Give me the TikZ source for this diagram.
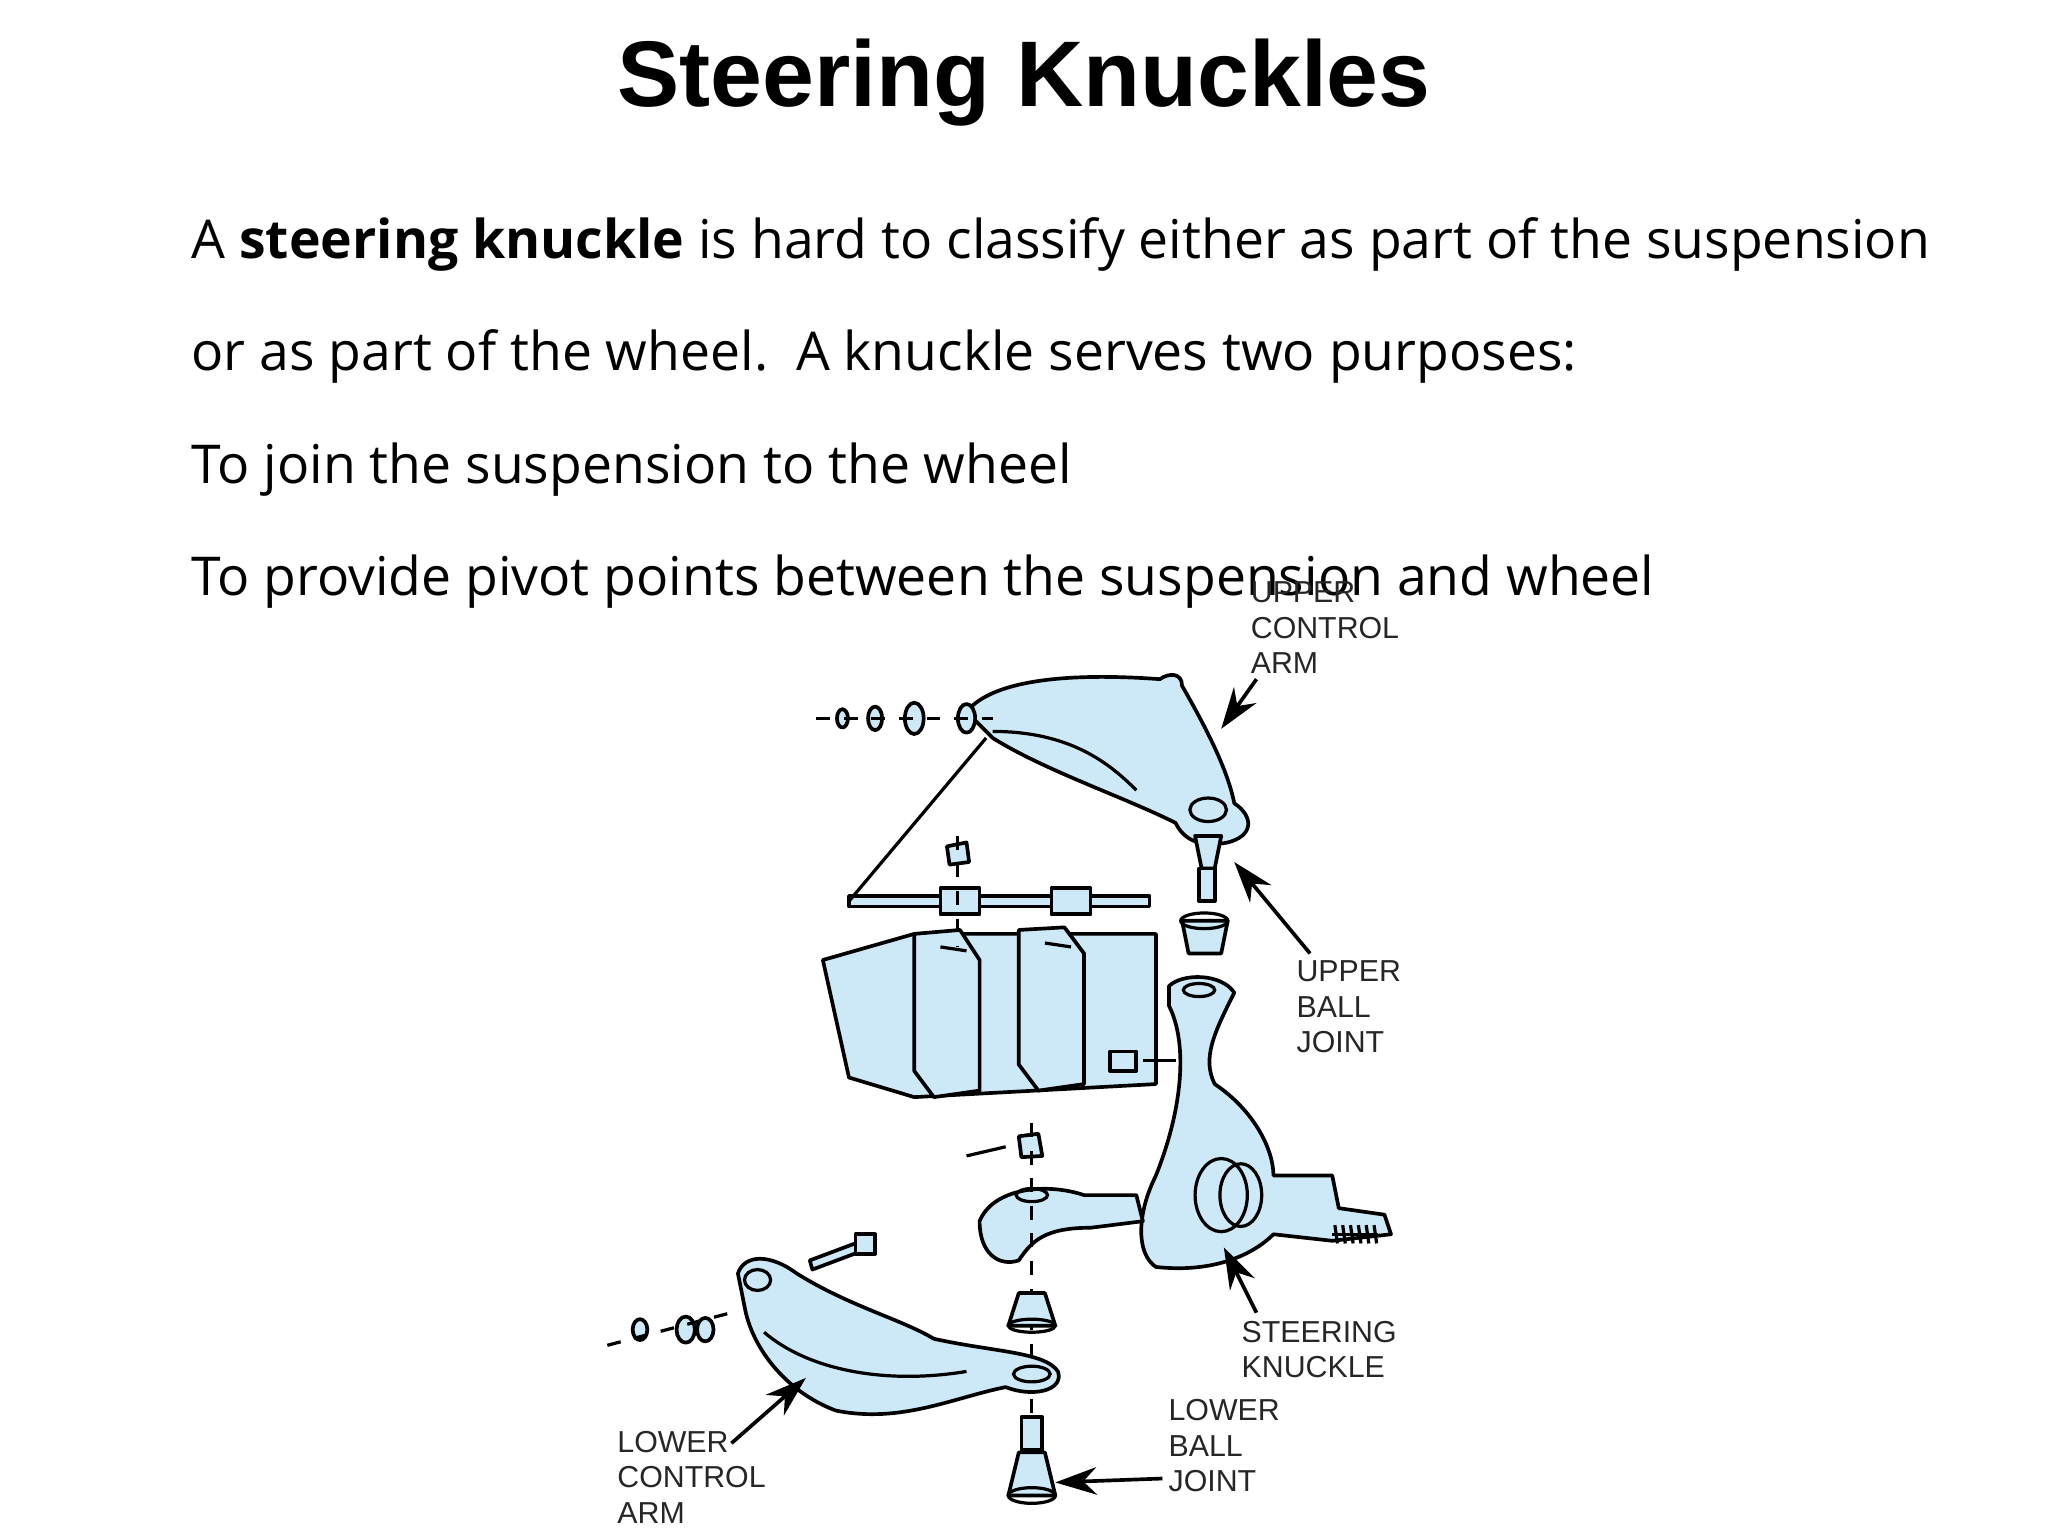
\documentclass[tikz,border=0pt]{standalone}
\usepackage{fontspec}
\setmainfont{Open Sans}
\newfontfamily\hd{Liberation Sans}
\usetikzlibrary{arrows.meta}
\definecolor{pb}{HTML}{CDE8F6}
\begin{document}
\begin{tikzpicture}[x=0.01cm,y=-0.01cm,
 part/.style={draw=black,fill=pb,line width=0.8pt,line join=round},
 ln/.style={draw=black,line width=0.7pt},
 lbl/.style={font=\hd\fontsize{6.6pt}{7.7pt}\selectfont,align=left,anchor=north west,inner sep=0pt,text=black!85},
 arr/.style={draw=black,line width=0.8pt,-{Stealth[length=9pt,width=6pt]}},
 body/.style={anchor=base west,inner sep=0pt,font=\fontsize{11.65pt}{13pt}\selectfont}]
\useasboundingbox (0,0) rectangle (1568,1176);
\node[font=\hd\bfseries\fontsize{20.3pt}{22pt}\selectfont] (title) at (784,63) {Steering Knuckles};
\node[body] (l1) at (146,198) {A \textbf{steering knuckle} is hard to classify either as part of the suspension};
\node[body] (l2) at (146,284) {or as part of the wheel.\ \ A knuckle serves two purposes:};
\node[body] (l3) at (146,370) {To join the suspension to the wheel};
\node[body] (l4) at (146,456) {To provide pivot points between the suspension and wheel};
% frame rail
\path[part] (630,735) -- (700,715) -- (885,715) -- (885,830) -- (700,840) -- (650,825) -- cycle;
\path[part] (700,715) -- (735,712) -- (750,735) -- (750,835) -- (715,840) -- (700,820) -- cycle;
\path[part] (780,712) -- (815,710) -- (830,730) -- (830,830) -- (795,835) -- (780,815) -- cycle;
\draw[ln] (720,725) -- (740,728) (800,722) -- (820,725);
% tie rod
\path[part] (650,686) rectangle (880,694);
\path[part] (720,680) rectangle (750,700);
\path[part] (805,680) rectangle (835,700);
\path[part] (725,648) -- (740,645) -- (742,660) -- (727,662) -- cycle;
\draw[ln,dashed] (733,640) -- (733,725);
\draw[ln] (650,690) -- (755,565);
% upper control arm
\path[part] (740,545) .. controls (760,520) and (820,515) .. (888,520) .. controls (895,515) and (905,515) .. (905,525) .. controls (925,560) and (940,590) .. (945,615) .. controls (960,625) and (960,640) .. (940,645) .. controls (915,650) and (905,640) .. (900,630) .. controls (860,610) and (800,590) .. (760,565) -- cycle;
\draw[ln] (760,560) .. controls (820,560) and (850,585) .. (870,605);
\draw[ln] (925,620) circle (14 and 9);
\path[part] (915,640) -- (935,640) -- (930,665) -- (920,665) -- cycle;
\path[part] (918,665) rectangle (930,690);
% bushings
\foreach \x/\r in {645/7,670/9,700/12,740/11}{\path[part] (\x,550) ellipse ({\r*0.6} and \r);}
\draw[ln,dashed] (625,550) -- (760,550);
% upper ball joint seat
\path[part] (905,705) -- (940,705) -- (935,730) -- (910,730) -- cycle;
\draw[ln] (922,705) ellipse (18 and 6);
% knuckle
\path[part] (895,755) .. controls (905,745) and (935,745) .. (945,760) .. controls (930,790) and (920,810) .. (930,830) .. controls (960,850) and (975,880) .. (975,900) -- (1020,900) -- (1025,925) -- (1060,930) -- (1065,945) -- (1020,950) -- (975,945) .. controls (960,960) and (930,975) .. (885,970) .. controls (870,960) and (870,930) .. (885,900) .. controls (905,850) and (910,800) .. (895,770) -- cycle;
\draw[ln] (935,915) ellipse (20 and 28);
\draw[ln] (950,915) ellipse (16 and 24);
\draw[ln] (918,758) ellipse (12 and 5);
\draw[ln] (1020,945) -- (1055,945);
\foreach \x in {1022,1028,...,1052}{\draw[ln] (\x,938) -- (\x+2,952);}
% small nut near knuckle
\path[part] (850,805) rectangle (870,820);
\draw[ln] (875,812) -- (900,812);
% steering arm
\path[part] (750,935) .. controls (760,910) and (800,905) .. (830,915) -- (870,915) -- (875,935) -- (835,940) .. controls (800,940) and (790,950) .. (780,965) .. controls (765,970) and (750,960) .. (750,935) -- cycle;
\draw[ln] (790,915) ellipse (12 and 5);
\path[part] (780,870) -- (795,868) -- (798,885) -- (782,886) -- cycle;
\draw[ln] (740,885) -- (770,878);
\draw[ln,dashed] (790,860) -- (790,1090);
% lower ball joint bushing
\path[part] (772,1015) -- (780,990) -- (800,990) -- (808,1015) -- cycle;
\draw[ln] (790,1015) ellipse (18 and 5);
\path[part] (782,1085) rectangle (798,1110);
\path[part] (772,1145) -- (780,1112) -- (800,1112) -- (808,1145) -- cycle;
\draw[ln] (790,1145) ellipse (18 and 6);
% lower control arm
\path[part] (565,975) .. controls (570,960) and (590,960) .. (610,975) .. controls (650,1000) and (690,1010) .. (715,1025) .. controls (760,1035) and (800,1035) .. (810,1050) .. controls (815,1065) and (790,1070) .. (770,1062) .. controls (730,1070) and (690,1090) .. (640,1080) .. controls (600,1065) and (575,1030) .. (570,1000) -- cycle;
\draw[ln] (580,980) ellipse (10 and 8);
\draw[ln] (790,1052) ellipse (14 and 6);
\draw[ln] (585,1020) .. controls (620,1050) and (680,1060) .. (740,1050);
% lower bushings and bolt
\foreach \x/\r in {490/8,525/10,540/9}{\path[part] (\x,1018) ellipse ({\r*0.7} and \r);}
\draw[ln,dashed] (465,1030) -- (560,1005);
\path[part] (620,965) -- (660,950) -- (662,957) -- (622,972) -- cycle;
\path[part] (655,945) rectangle (670,960);
% labels & arrows
\node[lbl] (uca) at (957,445) {UPPER\\CONTROL\\ARM};
\node[lbl] (ubj) at (992,735) {UPPER\\BALL\\JOINT};
\node[lbl] (sk) at (950,1011) {STEERING\\KNUCKLE};
\node[lbl] (lbj) at (894,1071) {LOWER\\BALL\\JOINT};
\node[lbl] (lca) at (472,1095) {LOWER\\CONTROL\\ARM};
\coordinate (t1) at (935,558); \coordinate (t2) at (945,660); \coordinate (t3) at (937,955);
\coordinate (t4) at (808,1135); \coordinate (t5) at (617,1055);
\draw[arr] (962,520) -- (t1);
\draw[arr] (1003,730) -- (t2);
\draw[arr] (962,1005) -- (t3);
\draw[arr] (890,1132) -- (t4);
\draw[arr] (560,1105) -- (t5);
\end{tikzpicture}
\end{document}
